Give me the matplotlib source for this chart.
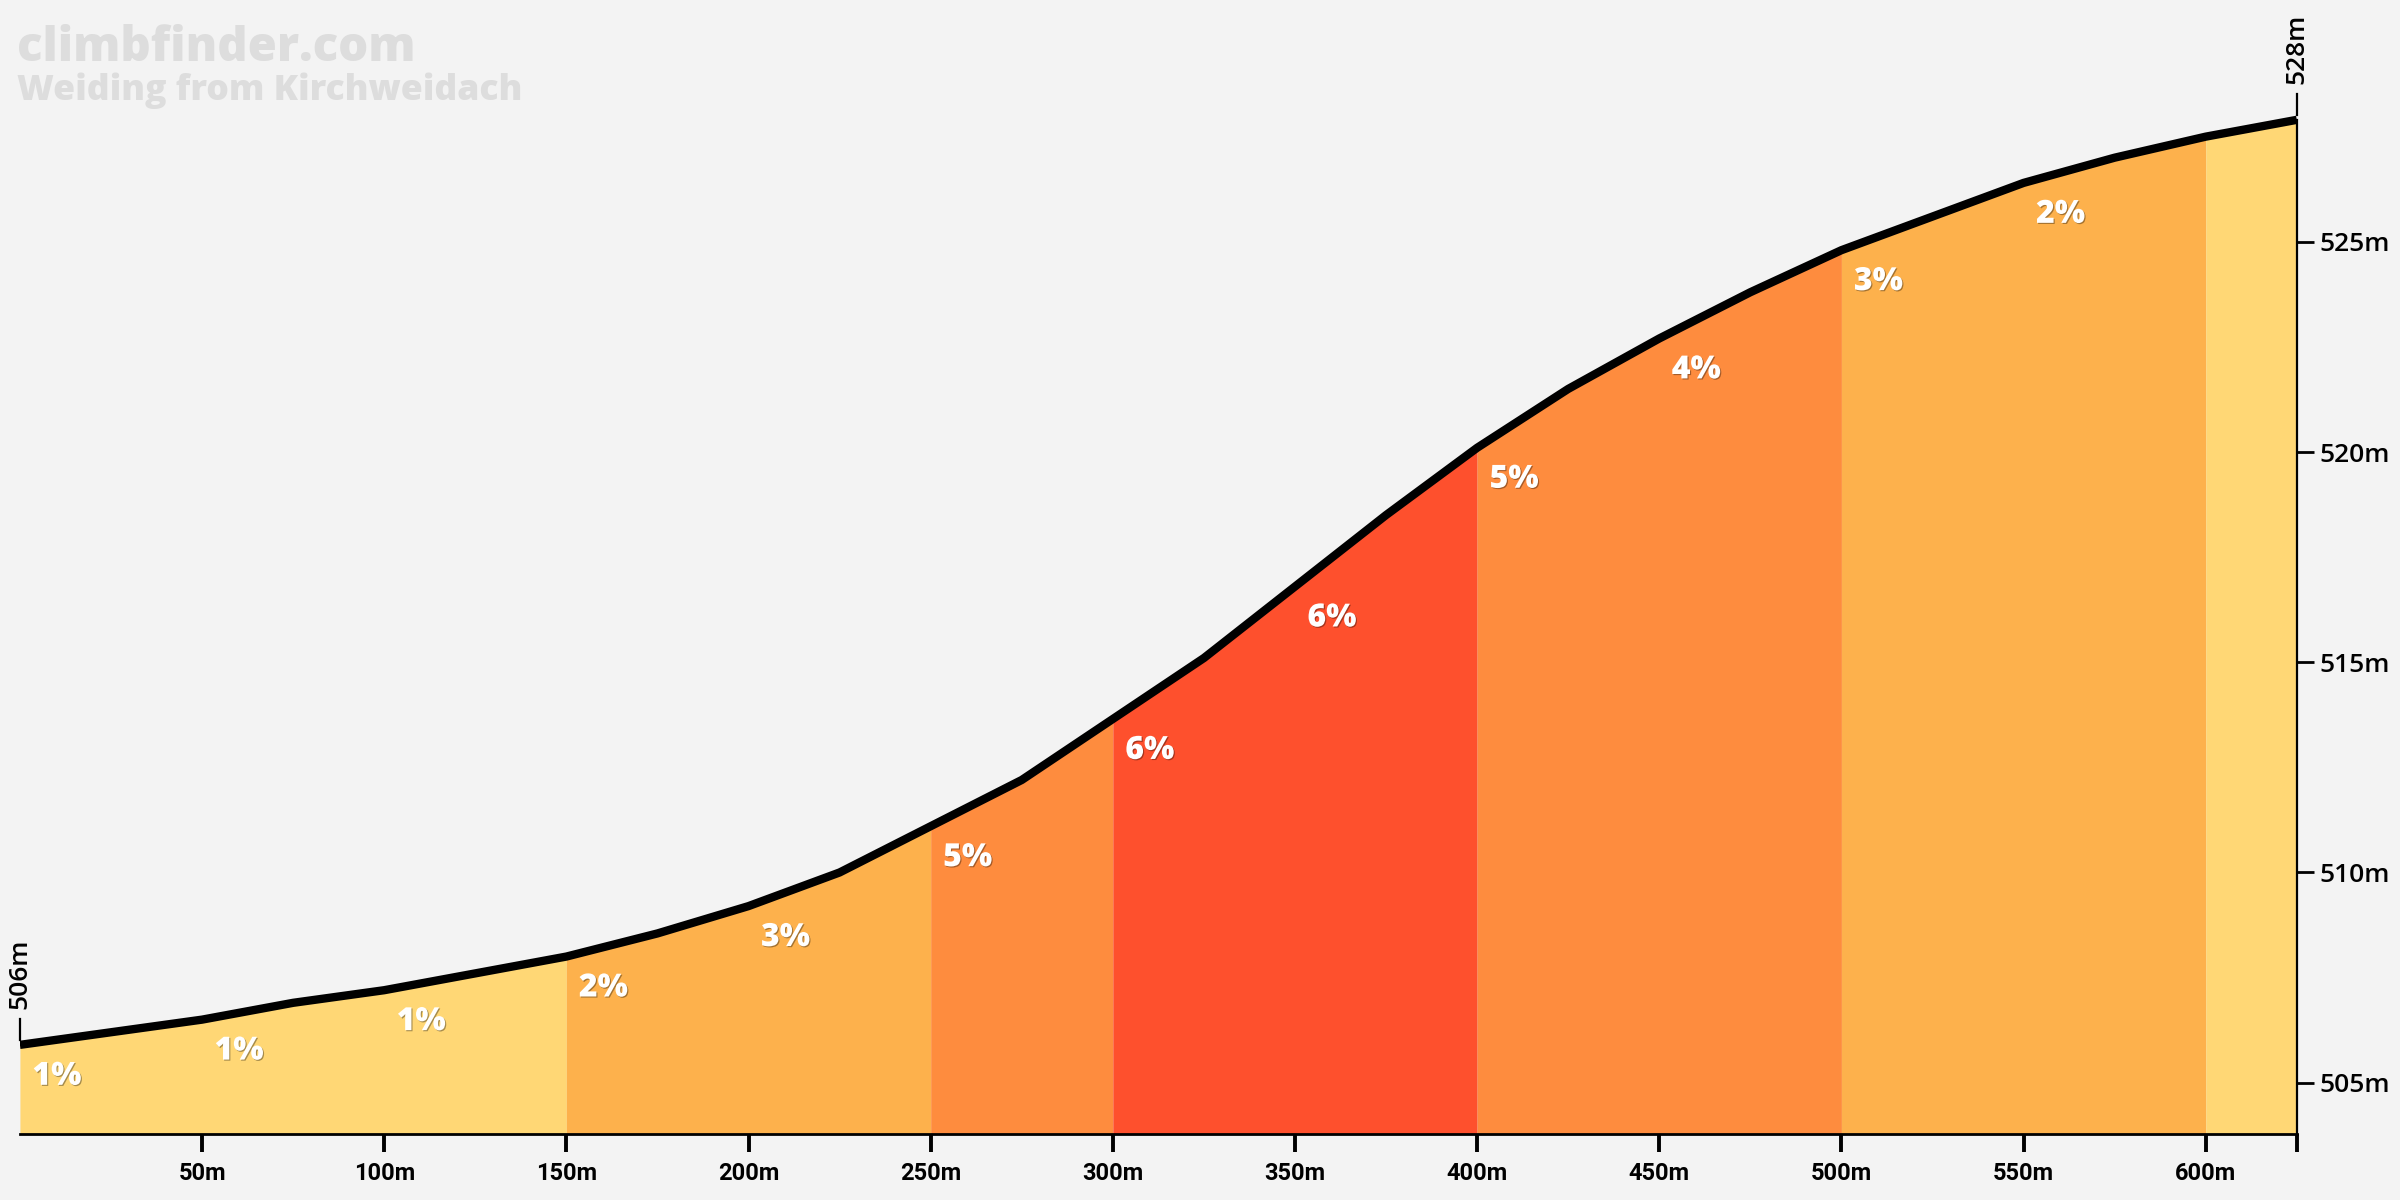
import numpy as np
import matplotlib
matplotlib.use("Agg")
import matplotlib.pyplot as plt
import matplotlib.patheffects as pe

# ── DATA ──────────────────────────────────────────────────────────────────────
distance_m = [0, 50, 75, 100, 150, 175, 200, 225, 250, 275, 300, 325, 350,
              375, 400, 425, 450, 475, 500, 525, 550, 575, 600, 625]
elevation_m = [505.9, 506.5, 506.9, 507.2, 508.0, 508.55, 509.2, 510.0, 511.1,
               512.2, 513.65, 515.1, 516.8, 518.5, 520.1, 521.5, 522.7, 523.8,
               524.8, 525.6, 526.4, 527.0, 527.5, 527.9]
seg_start = [0, 50, 100, 150, 200, 250, 300, 350, 400, 450, 500, 550, 600]
seg_end = [50, 100, 150, 200, 250, 300, 350, 400, 450, 500, 550, 600, 625]
seg_grade = [1, 1, 1, 2, 3, 5, 6, 6, 5, 4, 3, 2, 1]
x_ticks = [50, 100, 150, 200, 250, 300, 350, 400, 450, 500, 550, 600]
y_ticks = [505, 510, 515, 520, 525]
title = "climbfinder.com"
subtitle = "Weiding from Kirchweidach"

BG = "#F3F3F3"


def grade_color(g):
    if g <= 1:
        return "#FFD775"
    if g <= 3:
        return "#FDB14C"
    if g <= 5:
        return "#FE8C3E"
    return "#FE502D"


d = np.array(distance_m, dtype=float)
e = np.array(elevation_m, dtype=float)
ybot, ytop = 503.78, 530.75

fig = plt.figure(figsize=(12, 6), dpi=200)
fig.patch.set_facecolor(BG)
ax = fig.add_axes([0.0083, 0.055, 0.9487, 0.945])
ax.set_facecolor(BG)
ax.set_xlim(0, d[-1])
ax.set_ylim(ybot, ytop)

# coloured gradient bands -- merge neighbouring segments of the same colour
bands = []
for a, b, g in zip(seg_start, seg_end, seg_grade):
    c = grade_color(g)
    if bands and bands[-1][2] == c:
        bands[-1][1] = b
    else:
        bands.append([a, b, c])
for a, b, c in bands:
    m = (d >= a) & (d <= b)
    ax.fill_between(d[m], e[m], ybot, color=c, lw=0, zorder=1)

ax.plot(d, e, color="black", lw=3.0, solid_capstyle="butt",
        solid_joinstyle="round", zorder=3)

# gradient labels
shadow = [pe.withSimplePatchShadow(offset=(0.4, -0.4), shadow_rgbFace="black",
                                   alpha=0.35)]
for a, b, g in zip(seg_start, seg_end, seg_grade):
    if b - a < 50:
        continue
    ya = np.interp(a, d, e)
    ax.annotate(f"{g}%", (a, ya), xytext=(4.5, -11.5), textcoords="offset points",
                ha="left", va="center", color="white", fontsize=11.5,
                fontweight="heavy", family="Open Sans", zorder=4,
                path_effects=shadow)

# axes styling
for s in ("top", "left"):
    ax.spines[s].set_visible(False)
ax.spines["bottom"].set_linewidth(1.0)
ax.spines["right"].set_linewidth(0.8)
ax.spines["right"].set_bounds(ybot, e[-1])

ax.set_xticks(x_ticks + [d[-1]])
ax.set_xticklabels([f"{t}m" for t in x_ticks] + [""])
ax.tick_params(axis="x", direction="out", length=6.5, width=1.4, pad=3.5,
               labelsize=8.5)
for lab in ax.get_xticklabels():
    lab.set_family(["Liberation Sans Narrow", "Roboto"])
    lab.set_fontweight("bold")

ax.yaxis.tick_right()
ax.set_yticks(y_ticks)
ax.set_yticklabels([f"{t}m" for t in y_ticks])
ax.tick_params(axis="y", direction="out", length=6, width=1.0, pad=2,
               labelsize=9.5)
for lab in ax.get_yticklabels():
    lab.set_family("Open Sans")
    lab.set_fontweight("semibold")

# start / end elevation markers
for xv, yv in ((d[0], e[0]), (d[-1], e[-1])):
    ax.plot([xv, xv], [yv + 0.12, yv + 0.62], color="black", lw=0.8,
            clip_on=False, zorder=3)
    ax.annotate(f"{round(yv)}m", (xv, yv), xytext=(0, 13),
                textcoords="offset points", rotation=90, ha="center",
                va="bottom", fontsize=9.5, fontweight="semibold",
                family="Open Sans")

fig.text(0.007, 0.949, title, color="#DDDDDD", fontsize=17,
         fontweight="heavy", family="Open Sans", ha="left", va="baseline")
fig.text(0.007, 0.917, subtitle, color="#DDDDDD", fontsize=12.8,
         fontweight="heavy", family="Open Sans", ha="left", va="baseline")

fig.savefig("out.png", dpi=200, facecolor=BG)
